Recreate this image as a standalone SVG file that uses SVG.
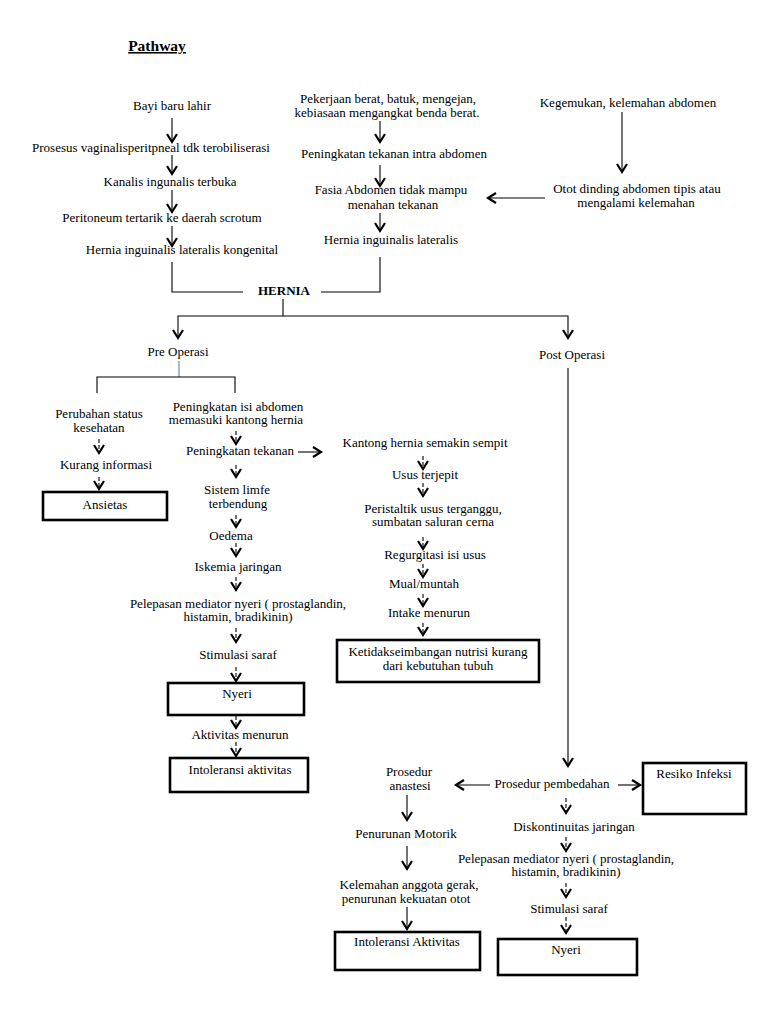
<svg xmlns="http://www.w3.org/2000/svg" width="768" height="1024" viewBox="0 0 768 1024">
<style>
text{font-family:"Liberation Serif","Times New Roman",serif;font-size:13px;fill:#000;text-anchor:middle}
.b{font-weight:bold}
.t{font-size:15.5px;font-weight:bold;text-decoration:underline}
.c{fill:none;stroke:#000;stroke-width:1.1}
.a{fill:none;stroke:#000;stroke-width:1.1;marker-end:url(#v)}
.d{stroke-dasharray:4 2}
.box{fill:#fff;stroke:#000;stroke-width:2.6}
</style>
<defs>
<marker id="v" markerUnits="userSpaceOnUse" markerWidth="14" markerHeight="14" refX="0" refY="0" orient="auto" overflow="visible">
<path d="M-8,-5 L0,0 L-8,5" fill="none" stroke="#000" stroke-width="2.2"/>
</marker>
</defs>
<rect width="768" height="1024" fill="#fff"/>
<text class="t" x="157" y="51">Pathway</text>

<g id="connectors">
<line class="a" x1="172" y1="118" x2="172" y2="142"/>
<line class="a" x1="172" y1="155" x2="172" y2="174"/>
<line class="a" x1="172" y1="190" x2="172" y2="212"/>
<line class="a" x1="172" y1="226" x2="172" y2="246"/>
<polyline class="c" points="172,262 172,292 243,292"/>
<polyline class="c" points="321,292 380,292 380,257"/>
<line class="a" x1="380" y1="121" x2="380" y2="142"/>
<line class="a" x1="380" y1="165" x2="380" y2="186"/>
<line class="a" x1="380" y1="213" x2="380" y2="231"/>
<line class="a" x1="622" y1="112" x2="622" y2="172" stroke="#444"/>
<line class="a" x1="545" y1="198" x2="488" y2="198"/>
<line class="c" x1="283" y1="299" x2="283" y2="316"/>
<path class="a" d="M283,316 H178 V338"/>
<path class="a" d="M283,316 H568 V338"/>
<line x1="179" y1="361" x2="179" y2="377" stroke="#4f81bd" stroke-width="1.1"/>
<polyline class="c" points="97,393 97,377 235,377 235,393"/>
<line class="a d" x1="99" y1="439" x2="99" y2="453"/>
<line class="a d" x1="99" y1="477" x2="99" y2="489"/>
<line class="a d" x1="236" y1="431" x2="236" y2="444"/>
<line class="a" x1="298" y1="452" x2="321" y2="452"/>
<line class="a d" x1="236" y1="465" x2="236" y2="477"/>
<line class="a d" x1="236" y1="515" x2="236" y2="527"/>
<line class="a d" x1="236" y1="543" x2="236" y2="556"/>
<line class="a d" x1="236" y1="577" x2="236" y2="590"/>
<line class="a d" x1="236" y1="628" x2="236" y2="642"/>
<line class="a d" x1="236" y1="667" x2="236" y2="681"/>
<line class="a d" x1="236" y1="716" x2="236" y2="728"/>
<line class="a d" x1="236" y1="742" x2="236" y2="756"/>
<line class="a d" x1="423" y1="456" x2="423" y2="469"/>
<line class="a d" x1="423" y1="483" x2="423" y2="496"/>
<line class="a d" x1="423" y1="537" x2="423" y2="549"/>
<line class="a d" x1="423" y1="564" x2="423" y2="577"/>
<line class="a d" x1="423" y1="594" x2="423" y2="606"/>
<line class="a d" x1="423" y1="623" x2="423" y2="635"/>
<line class="a" x1="568" y1="368" x2="568" y2="766"/>
<line class="a" x1="490" y1="785" x2="456" y2="785"/>
<line class="a" x1="618" y1="785" x2="640" y2="785"/>
<line class="a" x1="407" y1="795" x2="407" y2="820"/>
<line class="a" x1="407" y1="846" x2="407" y2="869"/>
<line class="a" x1="407" y1="907" x2="407" y2="929"/>
<line class="a d" x1="566" y1="798" x2="566" y2="813"/>
<line class="a d" x1="566" y1="837" x2="566" y2="851"/>
<line class="a d" x1="566" y1="883" x2="566" y2="897"/>
<line class="a d" x1="566" y1="917" x2="566" y2="933"/>
</g>

<g id="bayi"><text x="172" y="110">Bayi baru lahir</text></g>
<g id="prosesus"><text x="151" y="152">Prosesus vaginalisperitpneal tdk terobiliserasi</text></g>
<g id="kanalis"><text x="170" y="186">Kanalis ingunalis terbuka</text></g>
<g id="peritoneum"><text x="162" y="222">Peritoneum tertarik ke daerah scrotum</text></g>
<g id="kongenital"><text x="182" y="254">Hernia inguinalis lateralis kongenital</text></g>

<g id="pekerjaan"><text x="388" y="103">Pekerjaan berat, batuk, mengejan,</text><text x="387" y="117">kebiasaan mengangkat benda berat.</text></g>
<g id="intra"><text x="394" y="158">Peningkatan tekanan intra abdomen</text></g>
<g id="fasia"><text x="391" y="194">Fasia Abdomen tidak mampu</text><text x="393" y="209">menahan tekanan</text></g>
<g id="lateralis"><text x="391" y="244">Hernia inguinalis lateralis</text></g>

<g id="kegemukan"><text x="628" y="107">Kegemukan, kelemahan abdomen</text></g>
<g id="otot"><text x="637" y="193">Otot dinding abdomen tipis atau</text><text x="636" y="207">mengalami kelemahan</text></g>

<g id="hernia"><text class="b" x="284" y="295">HERNIA</text></g>
<g id="preop"><text x="178" y="356">Pre Operasi</text></g>
<g id="postop"><text x="572" y="359">Post Operasi</text></g>

<g id="perubahan"><text x="99" y="418">Perubahan status</text><text x="99" y="432">kesehatan</text></g>
<g id="kurang"><text x="106" y="469">Kurang informasi</text></g>
<g id="ansietas"><rect class="box" x="43" y="492" width="124" height="28"/><text x="105" y="509">Ansietas</text></g>

<g id="isi"><text x="238" y="411">Peningkatan isi abdomen</text><text x="236" y="424">memasuki kantong hernia</text></g>
<g id="tekanan"><text x="240" y="455">Peningkatan tekanan</text></g>
<g id="limfe"><text x="237" y="494">Sistem limfe</text><text x="238" y="508">terbendung</text></g>
<g id="oedema"><text x="231" y="540">Oedema</text></g>
<g id="iskemia"><text x="238" y="571">Iskemia jaringan</text></g>
<g id="mediator1"><text x="238" y="608">Pelepasan mediator nyeri ( prostaglandin,</text><text x="238" y="621">histamin, bradikinin)</text></g>
<g id="stimulasi1"><text x="238" y="659">Stimulasi saraf</text></g>
<g id="nyeri1"><rect class="box" x="168" y="683" width="136" height="32"/><text x="237" y="698">Nyeri</text></g>
<g id="aktivitas"><text x="240" y="739">Aktivitas menurun</text></g>
<g id="intoleransi1"><rect class="box" x="170" y="758" width="138" height="34"/><text x="240" y="774">Intoleransi aktivitas</text></g>

<g id="kantong"><text x="425" y="447">Kantong hernia semakin sempit</text></g>
<g id="usus"><text x="425" y="479">Usus terjepit</text></g>
<g id="peristaltik"><text x="433" y="513">Peristaltik usus terganggu,</text><text x="433" y="526">sumbatan saluran cerna</text></g>
<g id="regurgitasi"><text x="435" y="559">Regurgitasi isi usus</text></g>
<g id="mual"><text x="424" y="588">Mual/muntah</text></g>
<g id="intake"><text x="429" y="617">Intake menurun</text></g>
<g id="nutrisi"><rect class="box" x="337" y="640" width="202" height="42"/><text x="438" y="656">Ketidakseimbangan nutrisi kurang</text><text x="438" y="670">dari kebutuhan tubuh</text></g>

<g id="pembedahan"><text x="552" y="788">Prosedur pembedahan</text></g>
<g id="resiko"><rect class="box" x="643" y="763" width="103" height="51"/><text x="694" y="778">Resiko Infeksi</text></g>
<g id="anastesi"><text x="409" y="776">Prosedur</text><text x="410" y="790">anastesi</text></g>
<g id="motorik"><text x="406" y="838">Penurunan Motorik</text></g>
<g id="kelemahan"><text x="409" y="889">Kelemahan anggota gerak,</text><text x="406" y="903">penurunan kekuatan otot</text></g>
<g id="intoleransi2"><rect class="box" x="335" y="932" width="145" height="38"/><text x="407" y="946">Intoleransi Aktivitas</text></g>
<g id="diskontinuitas"><text x="574" y="831">Diskontinuitas jaringan</text></g>
<g id="mediator2"><text x="566" y="863">Pelepasan mediator nyeri ( prostaglandin,</text><text x="566" y="876">histamin, bradikinin)</text></g>
<g id="stimulasi2"><text x="569" y="913">Stimulasi saraf</text></g>
<g id="nyeri2"><rect class="box" x="498" y="939" width="139" height="36"/><text x="566" y="954">Nyeri</text></g>
</svg>
